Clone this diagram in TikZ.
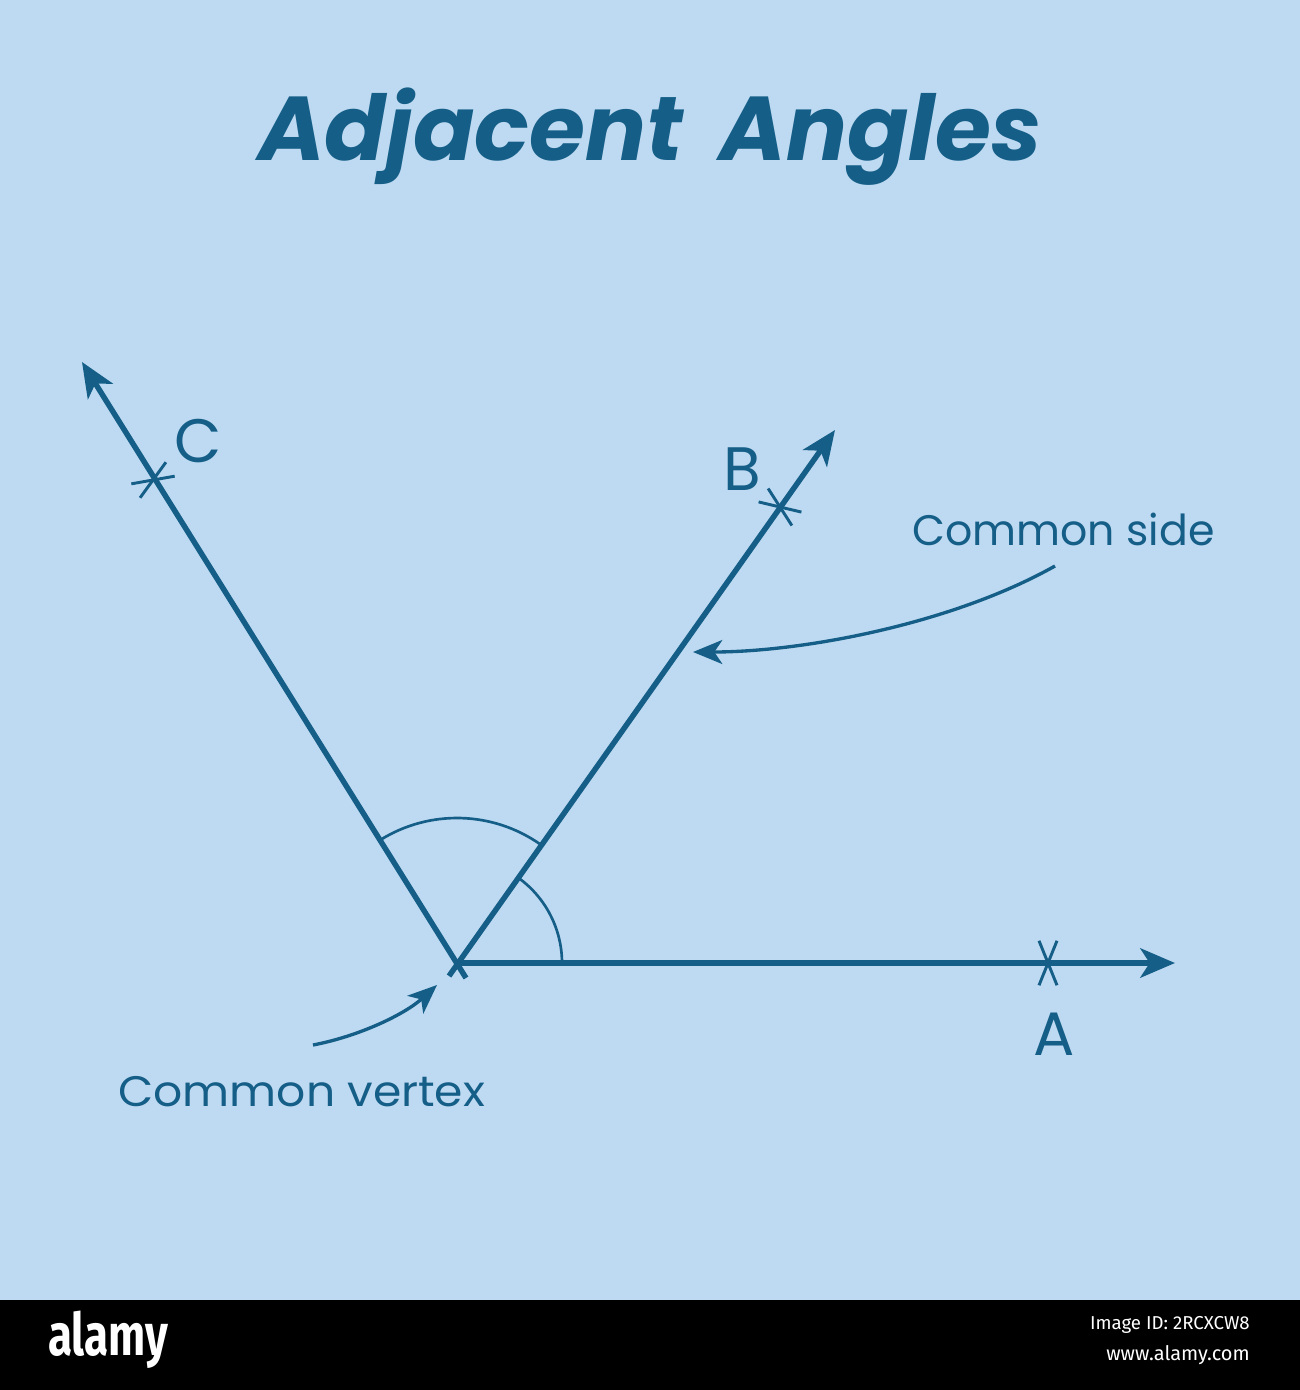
\documentclass[tikz,border=0pt]{standalone}
\usepackage{fontspec}
\setmainfont{Poppins}
\newfontfamily\barfont{Fira Sans}
\usetikzlibrary{arrows.meta}
\definecolor{bg}{RGB}{190,218,242}
\definecolor{ink}{RGB}{20,94,135}
\tikzset{
  ray/.style={ink, line width=4.1pt, -{Stealth[length=26pt,width=22pt,inset=7pt]}},
  arcline/.style={ink, line width=2pt},
  tick/.style={ink, line width=2.2pt},
  pointer/.style={ink, line width=2.5pt, -{Stealth[length=22pt,width=18pt,inset=6pt]}},
  lbl/.style={ink, font=\fontsize{32}{36}\selectfont, inner sep=0pt},
  letter/.style={ink, font=\fontsize{46}{50}\selectfont, inner sep=0pt},
}
\begin{document}
\begin{tikzpicture}[x=0.75pt,y=-0.75pt]
\fill[bg] (0,0) rectangle (1300,1300);
\fill[black] (0,1300) rectangle (1300,1390);
\useasboundingbox (0,0) rectangle (1300,1390);

% title
\node[ink, anchor=base, inner sep=0pt, font=\fontsize{68}{70}\selectfont\bfseries\itshape] (title) at (650,160) {Adjacent\, Angles};

% points
\coordinate (O) at (457,963);
\coordinate (Aend) at (1175,963);
\coordinate (Bend) at (835,430);
\coordinate (Cend) at (82,362);
\coordinate (Ob) at (449,976);
\coordinate (Oc) at (466,978);

% rays
\draw[ray] (O) -- (Aend);
\draw[ray] (Ob) -- (Bend);
\draw[ray] (Oc) -- (Cend);

% angle arcs (y axis points down, so visual angles are negated)
\draw[arcline] (O) ++(-54.66:145) arc[start angle=-54.66, end angle=-122, radius=145];
\draw[arcline] (O) ++(0:105) arc[start angle=0, end angle=-54.66, radius=105];

% ticks
\foreach \p/\a/\s in {{(1048,963)}/0/24, {(780,507)}/54.66/22, {(153,480)}/122/22}{
  \draw[tick] \p ++(-\a-90-22:\s) -- ++(-\a-90-22:-2*\s);
  \draw[tick] \p ++(-\a-90+22:\s) -- ++(-\a-90+22:-2*\s);
}

% point labels
\node[letter, anchor=base] (A) at (1054,1055) {A};
\node[letter, anchor=base] (B) at (742,490) {B};
\node[letter, anchor=base] (C) at (198,462) {C};

% annotations
\node[lbl, anchor=base west] (cs) at (912,545) {Common side};
\node[lbl, anchor=base west, xscale=1.07] (cv) at (118,1106) {Common vertex};
\coordinate (csS) at (1055,566);
\coordinate (csE) at (693,652);
\coordinate (cvS) at (313,1045);
\coordinate (cvE) at (437,985);
\draw[pointer] (csS) .. controls (950,625) and (800,652) .. (csE);
\draw[pointer] (cvS) .. controls (360,1036) and (405,1014) .. (cvE);

% footer bar
\node[white, anchor=west, inner sep=0pt, font=\barfont\bfseries\fontsize{44}{44}\selectfont, xscale=0.75] (brand) at (48,1340) {alamy};
\node[white, anchor=east, inner sep=0pt, font=\barfont\fontsize{14}{14}\selectfont] (imgid) at (1250,1325) {Image ID: 2RCXCW8};
\node[white, anchor=east, inner sep=0pt, font=\barfont\fontsize{15}{15}\selectfont] (www) at (1250,1355) {www.alamy.com};
\end{tikzpicture}
\end{document}
